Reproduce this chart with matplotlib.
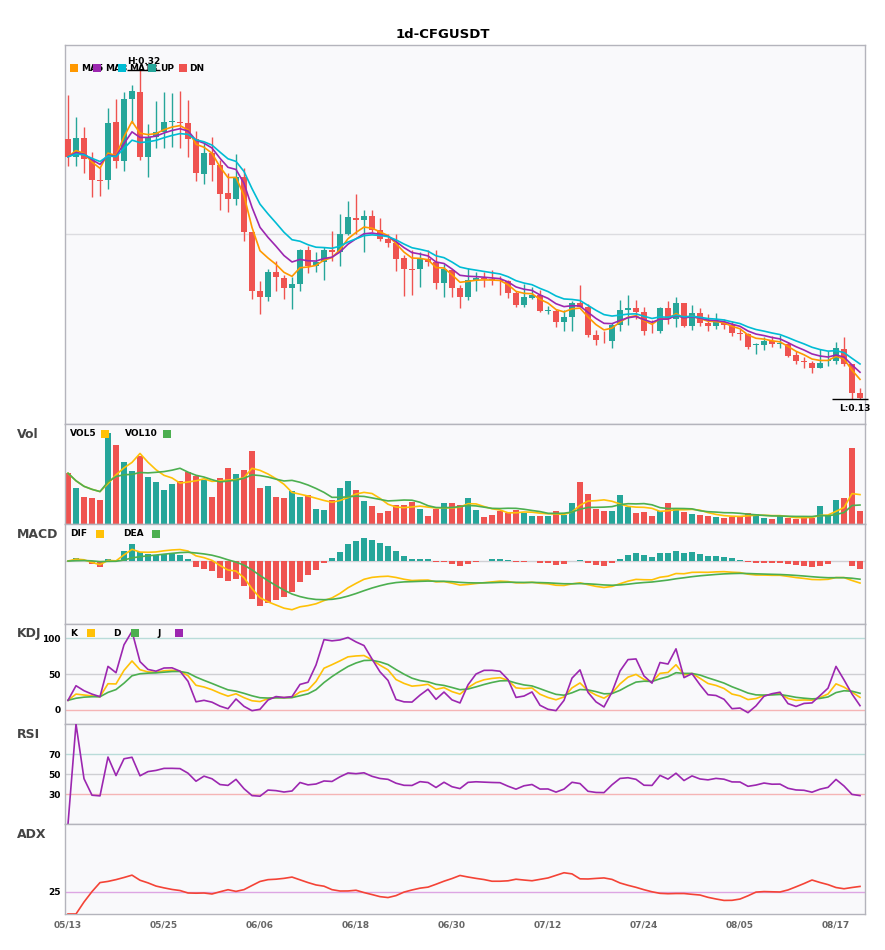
import numpy as np
import pandas as pd
import matplotlib
matplotlib.use("Agg")
import matplotlib.pyplot as plt

# ---------------- data ----------------
dates = pd.date_range("2024-05-13", periods=100, freq="D")

opens = [0.2801,0.2698,0.2806,0.2685,0.2563,0.2567,0.2899,0.2675,0.3032,0.3073,
 0.2698,0.2810,0.2843,0.2899,0.2899,0.2895,0.2802,0.2598,0.2718,0.2650,
 0.2490,0.2455,0.2582,0.2264,0.1925,0.1888,0.2031,0.2002,0.1940,0.1962,
 0.2158,0.2071,0.2091,0.2162,0.2147,0.2255,0.2348,0.2334,0.2355,0.2274,
 0.2222,0.2201,0.2112,0.2048,0.2050,0.2108,0.2089,0.1969,0.2048,0.1940,
 0.1888,0.1990,0.2000,0.1995,0.1985,0.1981,0.1911,0.1846,0.1885,0.1904,
 0.1811,0.1807,0.1743,0.1776,0.1857,0.1834,0.1672,0.1642,0.1637,0.1730,
 0.1817,0.1827,0.1805,0.1695,0.1695,0.1827,0.1763,0.1856,0.1720,0.1798,
 0.1738,0.1720,0.1743,0.1728,0.1680,0.1676,0.1613,0.1613,0.1637,0.1618,
 0.1618,0.1556,0.1518,0.1512,0.1483,0.1522,0.1518,0.1589,0.1503,0.1338]

highs = [0.3055,0.2930,0.2872,0.2727,0.2640,0.2978,0.3030,0.3074,0.3113,0.3200,
 0.2887,0.3020,0.3073,0.3065,0.3078,0.3026,0.2847,0.2776,0.2810,0.2679,
 0.2602,0.2712,0.2631,0.2264,0.1981,0.2052,0.2100,0.2014,0.2004,0.2164,
 0.2181,0.2148,0.2177,0.2268,0.2371,0.2442,0.2482,0.2390,0.2390,0.2348,
 0.2255,0.2255,0.2129,0.2158,0.2148,0.2162,0.2158,0.2081,0.2052,0.1956,
 0.2058,0.2033,0.2033,0.2047,0.2008,0.1985,0.1927,0.1966,0.1946,0.1931,
 0.1840,0.1821,0.1815,0.1869,0.1956,0.1850,0.1699,0.1695,0.1738,0.1873,
 0.1904,0.1873,0.1830,0.1757,0.1834,0.1869,0.1888,0.1856,0.1846,0.1827,
 0.1792,0.1798,0.1763,0.1753,0.1705,0.1685,0.1624,0.1657,0.1666,0.1672,
 0.1628,0.1580,0.1545,0.1518,0.1589,0.1580,0.1633,0.1661,0.1503,0.1367]

lows = [0.2644,0.2644,0.2604,0.2467,0.2471,0.2510,0.2631,0.2617,0.2893,0.2679,
 0.2582,0.2747,0.2747,0.2756,0.2747,0.2698,0.2559,0.2540,0.2559,0.2390,
 0.2380,0.2419,0.2212,0.1879,0.1792,0.1869,0.1923,0.1876,0.1819,0.1927,
 0.2027,0.2033,0.1990,0.2100,0.2066,0.2245,0.2255,0.2148,0.2264,0.2212,
 0.2177,0.2039,0.1898,0.1904,0.1950,0.2071,0.1937,0.1888,0.1892,0.1824,
 0.1875,0.1927,0.1946,0.1956,0.1902,0.1885,0.1830,0.1830,0.1879,0.1801,
 0.1792,0.1718,0.1695,0.1695,0.1830,0.1657,0.1614,0.1622,0.1593,0.1695,
 0.1730,0.1763,0.1672,0.1685,0.1685,0.1734,0.1718,0.1714,0.1699,0.1724,
 0.1695,0.1705,0.1705,0.1666,0.1643,0.1589,0.1561,0.1585,0.1599,0.1593,
 0.1545,0.1503,0.1483,0.1454,0.1479,0.1493,0.1503,0.1493,0.1300,0.1302]

closes = [0.2698,0.2806,0.2685,0.2567,0.2560,0.2895,0.2675,0.3032,0.3078,0.2698,
 0.2810,0.2843,0.2899,0.2900,0.2895,0.2802,0.2606,0.2718,0.2650,0.2482,
 0.2455,0.2582,0.2264,0.1923,0.1888,0.2031,0.2004,0.1940,0.1962,0.2158,
 0.2071,0.2091,0.2162,0.2147,0.2255,0.2351,0.2334,0.2355,0.2274,0.2222,
 0.2201,0.2106,0.2050,0.2046,0.2108,0.2089,0.1969,0.2052,0.1940,0.1888,
 0.1990,0.2000,0.1992,0.1985,0.1981,0.1911,0.1846,0.1888,0.1904,0.1811,
 0.1812,0.1743,0.1776,0.1857,0.1834,0.1672,0.1643,0.1639,0.1730,0.1817,
 0.1827,0.1801,0.1695,0.1691,0.1827,0.1763,0.1856,0.1720,0.1798,0.1738,
 0.1720,0.1743,0.1728,0.1680,0.1678,0.1599,0.1614,0.1637,0.1618,0.1619,
 0.1551,0.1522,0.1516,0.1483,0.1508,0.1523,0.1595,0.1503,0.1338,0.1309]

volumes = [50.3,35.3,26.3,25.3,23.3,90.0,78.3,61.0,52.3,67.7,
 46.3,41.3,33.3,39.3,42.3,51.7,47.3,43.3,26.3,45.3,
 55.3,49.3,53.3,72.3,35.3,37.3,26.3,25.3,32.3,26.3,
 28.3,15.3,14.3,23.3,35.3,42.3,33.3,22.3,17.7,11.3,
 13.3,19.3,19.3,21.3,15.3,8.3,15.3,20.3,20.3,19.3,
 25.3,14.3,7.3,9.3,13.3,11.3,14.3,11.3,8.3,8.3,
 8.3,13.3,9.3,20.3,41.3,29.3,15.3,13.3,13.3,28.3,
 17.3,11.3,12.3,8.3,13.3,20.3,16.3,12.3,10.3,9.3,
 8.3,7.3,6.3,7.3,8.3,11.3,10.3,6.3,5.3,8.3,
 6.3,5.3,6.3,6.3,18.3,8.3,23.3,25.3,75.3,13.3]

title = "1d-CFGUSDT"
ma_spans = [5, 8, 13]

# ---------------- indicators ----------------
o = pd.Series(opens); h = pd.Series(highs); l = pd.Series(lows)
c = pd.Series(closes); v = pd.Series(volumes)
x = np.arange(len(c))

def ema(s, span):
    return s.ewm(span=span, adjust=False).mean()

ma1, ma2, ma3 = [ema(c, s) for s in ma_spans]
vol5 = v.rolling(5, min_periods=1).mean()
vol10 = v.rolling(10, min_periods=1).mean()

dif = ema(c, 12) - ema(c, 26)
dea = ema(dif, 9)
hist = 2 * (dif - dea)

low9 = l.rolling(9, min_periods=1).min()
high9 = h.rolling(9, min_periods=1).max()
rsv = ((c - low9) / (high9 - low9) * 100).fillna(50)
K = rsv.ewm(com=2, adjust=False).mean()
D = K.ewm(com=2, adjust=False).mean()
J = 3 * K - 2 * D

d = c.diff()
ag = d.clip(lower=0).ewm(com=13, adjust=True).mean()
al = (-d.clip(upper=0)).ewm(com=13, adjust=True).mean()
rsi = (100 * ag / (ag + al)).fillna(0)

up = h.diff(); dn = -l.diff()
pdm = pd.Series(np.where((up > dn) & (up > 0), up, 0.0))
mdm = pd.Series(np.where((dn > up) & (dn > 0), dn, 0.0))
tr = pd.concat([h - l, (h - c.shift()).abs(), (l - c.shift()).abs()], axis=1).max(axis=1)
trs = ema(tr, 14)
pdi = 100 * ema(pdm, 14) / trs
mdi = 100 * ema(mdm, 14) / trs
dx = (100 * (pdi - mdi).abs() / (pdi + mdi)).fillna(0)
adx = ema(dx, 14)

# ---------------- style ----------------
RED = "#ef5350"; GREEN = "#26a69a"
FACE = "#f9f9fb"; SPINE = "#b4b4bc"
LFS = 6.5
W, H = 885, 950
fig = plt.figure(figsize=(W / 100, H / 100), dpi=100)
fig.patch.set_facecolor("white")

left = 65 / W; width = 800 / W
def mkax(top, bottom, share=None):
    ax = fig.add_axes([left, 1 - bottom / H, width, (bottom - top) / H], sharex=share)
    ax.set_facecolor(FACE)
    for s in ax.spines.values():
        s.set_color(SPINE); s.set_linewidth(1)
    ax.tick_params(length=0)
    return ax

ax0 = mkax(45, 424)
ax1 = mkax(424, 524, ax0)
ax2 = mkax(524, 624, ax0)
ax3 = mkax(624, 724, ax0)
ax4 = mkax(724, 824, ax0)
ax5 = mkax(824, 914, ax0)
axes = [ax0, ax1, ax2, ax3, ax4, ax5]

up_mask = (c >= o).values
colors = np.where(up_mask, GREEN, RED)

# ---- main candles ----
ax0.vlines(x, l, h, colors=colors, linewidth=1, zorder=2)
body_lo = np.minimum(o, c); body_h = np.maximum((c - o).abs(), 0.0004)
ax0.bar(x, body_h, bottom=body_lo, width=0.8, color=colors, linewidth=0, zorder=3)
ax0.plot(x, ma1, color="#ff9800", lw=1.2, zorder=4)
ax0.plot(x, ma2, color="#9c27b0", lw=1.2, zorder=4)
ax0.plot(x, ma3, color="#00bcd4", lw=1.2, zorder=4)
hi, lo = h.max(), l.min()
rng = hi - lo
ax0.set_ylim(lo - 0.075 * rng, hi + 0.075 * rng)
ax0.set_xlim(-0.375, len(c) - 0.375)
mid = (lo + hi) / 2
ax0.set_yticks([mid]); ax0.set_yticklabels([])
ax0.grid(axis="y", color="#dcdce0", lw=1)
ax0.set_axisbelow(True)
ih = int(h.idxmax()); il = int(l.idxmin())
ax0.hlines(hi, ih - 1.6, ih + 2.5, color="black", lw=1, zorder=5)
ax0.text(ih + 0.5, hi + 0.002, f"H:{hi:.2f}", ha="center", va="bottom", fontsize=LFS, fontweight="bold", zorder=5)
ax0.hlines(lo, il - 2.5, il + 2.0, color="black", lw=1, zorder=5, clip_on=False)
ax0.text(il + 0.4, lo - 0.0025, f"L:{lo:.2f}", ha="center", va="top", fontsize=LFS, fontweight="bold", zorder=5, clip_on=False)

def legend(ax, y, items):
    for kind, xp, val in items:
        if kind == "t":
            ax.text(xp, y, val, transform=ax.transAxes, fontsize=LFS, fontweight="bold", va="center", ha="left", zorder=10)
        else:
            ax.scatter([xp], [y], transform=ax.transAxes, marker="s", s=28, color=val, zorder=11, clip_on=False, linewidths=0)

legend(ax0, 0.938, [("t", 0.020, f"MA{ma_spans[0]}"), ("s", 0.011, "#ff9800"),
                    ("t", 0.050, f"MA{ma_spans[1]}"), ("s", 0.0406, "#9c27b0"),
                    ("t", 0.080, f"MA{ma_spans[2]}"), ("s", 0.071, "#00bcd4"),
                    ("t", 0.119, "UP"), ("s", 0.109, GREEN),
                    ("t", 0.155, "DN"), ("s", 0.147, RED)])

# ---- volume ----
ax1.bar(x, v, width=0.8, color=colors, linewidth=0, zorder=2)
ax1.plot(x, vol5, color="#ffc107", lw=1.2, zorder=3)
ax1.plot(x, vol10, color="#4caf50", lw=1.2, zorder=3)
ax1.set_ylim(0, v.max() * 1.1)
ax1.set_yticks([])
legend(ax1, 0.905, [("t", 0.00625, "VOL5"), ("s", 0.0506, "#ffc107"),
                    ("t", 0.075, "VOL10"), ("s", 0.127, "#4caf50")])

# ---- MACD ----
ax2.axhline(0, color="#d0d0d4", lw=1, zorder=1)
ax2.bar(x, hist, width=0.8, color=np.where(hist >= 0, GREEN, RED), linewidth=0, zorder=2)
ax2.plot(x, dif, color="#ffc107", lw=1.2, zorder=3)
ax2.plot(x, dea, color="#4caf50", lw=1.2, zorder=3)
mn = min(dif.min(), dea.min(), hist.min()); mx = max(dif.max(), dea.max(), hist.max())
r = mx - mn
ax2.set_ylim(mn - 0.2 * r, mx + 0.2 * r)
ax2.set_yticks([])
legend(ax2, 0.90, [("t", 0.00625, "DIF"), ("s", 0.044, "#ffc107"),
                   ("t", 0.0725, "DEA"), ("s", 0.114, "#4caf50")])

# ---- KDJ ----
ax3.axhline(100, color="#b9dcd9", lw=1, zorder=1)
ax3.axhline(50, color="#cfcfd3", lw=1, zorder=1)
ax3.axhline(0, color="#f5b5b5", lw=1, zorder=1)
ax3.plot(x, K, color="#ffc107", lw=1.2, zorder=3)
ax3.plot(x, D, color="#4caf50", lw=1.2, zorder=3)
ax3.plot(x, J, color="#9c27b0", lw=1.2, zorder=3)
ax3.set_ylim(-20, 120)
ax3.set_yticks([0, 50, 100])
legend(ax3, 0.91, [("t", 0.00625, "K"), ("s", 0.033, "#ffc107"),
                   ("t", 0.060, "D"), ("s", 0.087, "#4caf50"),
                   ("t", 0.115, "J"), ("s", 0.142, "#9c27b0")])

# ---- RSI ----
ax4.axhline(70, color="#b9dcd9", lw=1, zorder=1)
ax4.axhline(50, color="#cfcfd3", lw=1, zorder=1)
ax4.axhline(30, color="#f5b5b5", lw=1, zorder=1)
ax4.plot(x, rsi, color="#9c27b0", lw=1.2, zorder=3)
ax4.set_ylim(0, 100)
ax4.set_yticks([30, 50, 70])

# ---- ADX ----
ax5.axhline(25, color="#dda6e3", lw=1, zorder=1)
ax5.plot(x, adx, color="#f44336", lw=1.2, zorder=3)
ax5.set_ylim(0, 100)
ax5.set_yticks([25])

for ax in [ax3, ax4, ax5]:
    for t in ax.get_yticklabels():
        t.set_fontsize(LFS); t.set_fontweight("bold")
    ax.tick_params(axis="y", pad=3)

ticks = list(range(0, len(c), 12))
ax5.set_xticks(ticks)
ax5.set_xticklabels([dates[i].strftime("%m/%d") for i in ticks], fontsize=LFS, fontweight="bold", color="#666666")
ax5.tick_params(axis="x", pad=5)
for ax in axes[:-1]:
    plt.setp(ax.get_xticklabels(), visible=False)

# ---- labels ----
fig.text(0.5, 1 - 34 / H, title, ha="center", va="center", fontsize=9.5, fontweight="bold")
for name, yy in [("Vol", 435), ("MACD", 535), ("KDJ", 634), ("RSI", 735), ("ADX", 834)]:
    fig.text(17 / W, 1 - yy / H, name, ha="left", va="center", fontsize=9, fontweight="bold", color="#444444")

fig.savefig("out.png", dpi=100)
